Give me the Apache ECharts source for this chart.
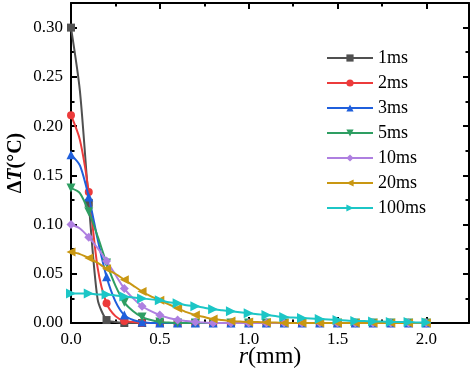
<!DOCTYPE html>
<html>
<head>
<meta charset="utf-8">
<script src="https://cdn.jsdelivr.net/npm/echarts@6/dist/echarts.min.js"></script>
<style>html,body{margin:0;padding:0;background:#fff}#c{width:474px;height:373px}</style>
</head>
<body>
<div id="c"></div>
<script>
var radii = [0,0.05,0.1,0.15,0.2,0.25,0.3,0.35,0.4,0.45,0.5,0.55,0.6,0.65,0.7,0.75,0.8,0.85,0.9,0.95,1.0,1.05,1.1,1.15,1.2,1.25,1.3,1.35,1.4,1.45,1.5,1.55,1.6,1.65,1.7,1.75,1.8,1.85,1.9,1.95,2.0];
var seriesNames = ['1ms','2ms','3ms','5ms','10ms','20ms','100ms'];
var t1ms   = [0.300,0.236,0.122,0.024,0.003,0.001,0,0,0,0,0,0,0,0,0,0,0,0,0,0,0,0,0,0,0,0,0,0,0,0,0,0,0,0,0,0,0,0,0,0,0];
var t2ms   = [0.211,0.186,0.133,0.056,0.020,0.007,0.002,0.001,0,0,0,0,0,0,0,0,0,0,0,0,0,0,0,0,0,0,0,0,0,0,0,0,0,0,0,0,0,0,0,0,0];
var t3ms   = [0.171,0.160,0.128,0.085,0.047,0.022,0.008,0.003,0.001,0,0,0,0,0,0,0,0,0,0,0,0,0,0,0,0,0,0,0,0,0,0,0,0,0,0,0,0,0,0,0,0];
var t5ms   = [0.137,0.132,0.113,0.088,0.061,0.038,0.021,0.012,0.006,0.003,0.001,0.0005,0,0,0,0,0,0,0,0,0,0,0,0,0,0,0,0,0,0,0,0,0,0,0,0,0,0,0,0,0];
var t10ms  = [0.100,0.096,0.087,0.076,0.063,0.049,0.035,0.025,0.017,0.012,0.008,0.005,0.003,0.002,0.001,0.0005,0,0,0,0,0,0,0,0,0,0,0,0,0,0,0,0,0,0,0,0,0,0,0,0,0];
var t20ms  = [0.072,0.070,0.066,0.061,0.055,0.050,0.044,0.038,0.032,0.027,0.023,0.019,0.015,0.011,0.008,0.006,0.004,0.003,0.002,0.0015,0.001,0.001,0.0005,0.0005,0,0,0,0,0,0,0,0,0,0,0,0,0,0,0,0,0];
var t100ms = [0.030,0.030,0.030,0.029,0.029,0.028,0.027,0.026,0.025,0.024,0.023,0.021,0.020,0.018,0.017,0.0155,0.014,0.013,0.012,0.011,0.010,0.009,0.008,0.007,0.006,0.0055,0.005,0.0045,0.004,0.0035,0.003,0.0025,0.002,0.002,0.0015,0.0015,0.001,0.001,0.001,0.0005,0.0005];
var xTicks = ['0.0','0.5','1.0','1.5','2.0'];
var yTicks = ['0.00','0.05','0.10','0.15','0.20','0.25','0.30'];

var values = [t1ms,t2ms,t3ms,t5ms,t10ms,t20ms,t100ms];
var colors = ['#505050','#ec3b3b','#1f5fdc','#2e9e62','#ae7fe0','#c99712','#1cc6c6'];
var symbols = ['rect','circle','triangle','triangle','diamond','triangle','triangle'];
var rotations = [0,0,0,180,0,90,-90];
var sizes = [8,8,9,9,9,9,10];

var series = seriesNames.map(function(name,i){
  return {
    name: name, type: 'line', xAxisIndex: 0, yAxisIndex: 0,
    smooth: 0.25,
    symbol: symbols[i], symbolRotate: rotations[i], symbolSize: sizes[i],
    lineStyle: {color: colors[i], width: 2},
    itemStyle: {color: colors[i]},
    z: 2 + i,
    data: radii.map(function(r,k){
      var d = {value: [r, values[i][k]]};
      if (k % 2 === 1) d.symbol = 'none';
      return d;
    })
  };
});

var fontFam = '"Liberation Serif","Times New Roman",serif';
function axisBase(pos, showLabel, isX){
  return {
    type: 'value', position: pos,
    min: 0, max: isX ? 2.24 : 0.325, interval: isX ? 0.5 : 0.05,
    axisLine: {show: true, onZero: false, lineStyle: {color: '#000', width: 2}},
    axisTick: {show: true, inside: true, length: 6, lineStyle: {color: '#000', width: 2}},
    minorTick: {show: true, splitNumber: 2, length: 3.5, lineStyle: {color: '#000', width: 2}},
    splitLine: {show: false},
    axisLabel: {
      show: showLabel, showMaxLabel: false, margin: 8,
      color: '#000', fontFamily: fontFam, fontSize: 17,
      formatter: function(v){
        var arr = isX ? xTicks : yTicks;
        var idx = Math.round(v / (isX ? 0.5 : 0.05));
        return arr[idx] !== undefined ? arr[idx] : '';
      }
    }
  };
}
var xBottom = axisBase('bottom', true, true);
xBottom.name = '{i|r}{n|(mm)}';
xBottom.nameLocation = 'middle';
xBottom.nameGap = 22;
xBottom.nameMoveOverlap = false;
xBottom.nameTextStyle = {rich: {
  i: {fontFamily: fontFam, fontStyle: 'italic', fontSize: 24, color: '#000'},
  n: {fontFamily: fontFam, fontSize: 24, color: '#000'}
}};
var yLeft = axisBase('left', true, false);
yLeft.name = '{n|\u0394}{i|T}{n|(\u00b0C)}';
yLeft.nameLocation = 'middle';
yLeft.nameGap = 45;
yLeft.nameMoveOverlap = false;
yLeft.nameTextStyle = {rich: {
  i: {fontFamily: fontFam, fontStyle: 'italic', fontWeight: 'bold', fontSize: 20, color: '#000'},
  n: {fontFamily: fontFam, fontWeight: 'bold', fontSize: 20, color: '#000'}
}};

var chart = echarts.init(document.getElementById('c'), null, {renderer: 'canvas'});
chart.setOption({
  animation: false,
  backgroundColor: '#fff',
  grid: {left: 71, top: 3, right: 5, bottom: 50, containLabel: false, outerBoundsMode: 'none'},
  xAxis: [xBottom, axisBase('top', false, true)],
  yAxis: [yLeft, axisBase('right', false, false)],
  legend: {
    orient: 'vertical', left: 321, top: 44,
    itemWidth: 46, itemHeight: 9, itemGap: 7,
    textStyle: {fontFamily: fontFam, fontSize: 18, color: '#000'},
    data: seriesNames
  },
  series: series
});
</script>
</body>
</html>
